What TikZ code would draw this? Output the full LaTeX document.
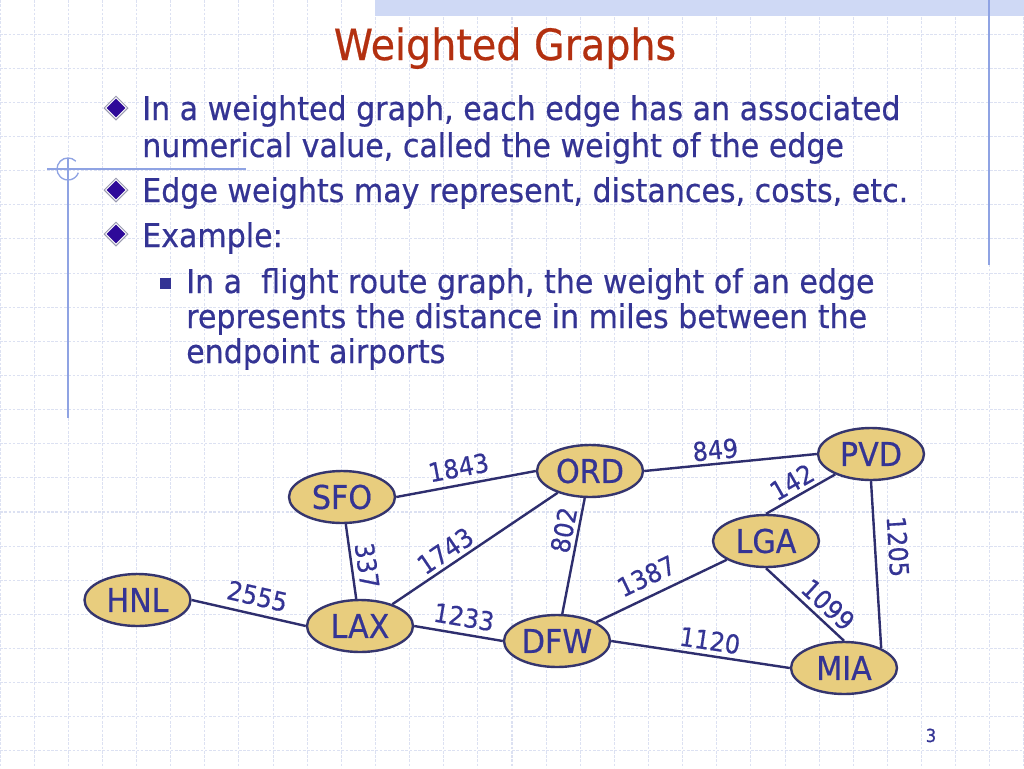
\documentclass[tikz,border=0pt]{standalone}
\usepackage{fontspec}
\setmainfont[FakeStretch=0.92,FakeBold=0.5]{DejaVu Sans}
\usetikzlibrary{shapes.geometric}
\definecolor{txt}{HTML}{343494}
\definecolor{ttl}{HTML}{B33010}
\definecolor{edgec}{HTML}{2E2E6E}
\definecolor{nodef}{HTML}{E8CD7E}
\definecolor{nodeb}{HTML}{35356E}
\definecolor{indigo}{HTML}{2E0A99}
\definecolor{dgray}{HTML}{9A9AB0}
\definecolor{deco}{HTML}{8FA3E3}
\definecolor{gridc}{HTML}{DCE1F2}
\definecolor{band}{HTML}{CFD9F5}
\tikzset{
  gridline/.style={gridc, line width=0.8pt, dash pattern=on 2pt off 1.2pt},
  decoline/.style={deco, line width=1pt},
  apt/.style={ellipse, draw=nodeb, fill=nodef, line width=1.8pt,
    minimum width=79.5pt, minimum height=39pt, inner sep=0pt,
    font=\fontsize{24.6}{28}\selectfont, text=txt},
  edge/.style={edgec, line width=1.8pt},
  lbl/.style={sloped, above, inner sep=#1, font=\fontsize{19.5}{22}\selectfont, text=txt},
  body/.style={anchor=base west, inner sep=0pt, text=txt, font=\fontsize{24.5}{28}\selectfont},
}
\begin{document}
\begin{tikzpicture}[x=0.75pt,y=-0.75pt]
\useasboundingbox (0,0) rectangle (1024,768);
\fill[white] (0,0) rectangle (1024,768);
% grid
\foreach \i in {0,...,30} \draw[gridline] (\i*34.133,0) -- (\i*34.133,768);
\foreach \j in {1,...,22} \draw[gridline] (0,\j*34.133) -- (1024,\j*34.133);
% top band and decorations
\fill[band] (375,0) rectangle (1024,16);
\draw[decoline] (989,0) -- (989,265);
\draw[decoline] (47,169) -- (246,169);
\draw[decoline] (68,158) -- (68,418);
\draw[decoline] (75.8,161.2) arc[start angle=45, end angle=340, radius=8.25pt];
% title
\node[anchor=base, inner sep=0pt, text=ttl, font=\fontsize{32.3}{36}\selectfont] (title) at (505,60) {Weighted Graphs};
% bullets
\foreach \y in {108,190,234} {
  \fill[dgray] (116,\y) +(0,-12.5) -- +(12.5,0) -- +(0,12.5) -- +(-12.5,0) -- cycle;
  \fill[white] (116,\y) +(0,-10.8) -- +(10.8,0) -- +(0,10.8) -- +(-10.8,0) -- cycle;
  \fill[indigo] (116,\y) +(0,-9.3) -- +(9.3,0) -- +(0,9.3) -- +(-9.3,0) -- cycle;
}
\fill[txt] (165,283) +(-5.5,-5.5) rectangle +(5.5,5.5);
\node[body] (t1) at (142,120) {In a weighted graph, each edge has an associated};
\node[body] (t2) at (142,157) {numerical value, called the weight of the edge};
\node[body] (t3) at (142,202) {Edge weights may represent, distances, costs, etc.};
\node[body] (t4) at (142,247) {Example:};
\node[body] (t5) at (186,293) {In a~ flight route graph, the weight of an edge};
\node[body] (t6) at (186,328) {represents the distance in miles between the};
\node[body] (t7) at (186,363) {endpoint airports};
% page number
\node[anchor=base, inner sep=0pt, text=txt, font=\fontsize{13.5}{16}\selectfont] (pg) at (931,742) {3};
% graph nodes
\node[apt] (HNL) at (137.5,600) {HNL};
\node[apt] (SFO) at (342,497) {SFO};
\node[apt] (LAX) at (360,626) {LAX};
\node[apt] (ORD) at (590,471) {ORD};
\node[apt] (PVD) at (871,454) {PVD};
\node[apt] (LGA) at (766,541) {LGA};
\node[apt] (DFW) at (557,641) {DFW};
\node[apt] (MIA) at (844,668) {MIA};
% edges
\draw[edge] (HNL.east) -- node[lbl=5.5pt, pos=0.54] {2555} (LAX.west);
\draw[edge] (SFO.east) -- node[lbl=4.9pt, pos=0.47] {1843} (ORD.west);
\draw[edge] (SFO) -- node[lbl=3.3pt, pos=0.585] {337} (LAX);
\draw[edge] (LAX) -- node[lbl=2.8pt, pos=0.37] {1743} (ORD);
\draw[edge] (LAX.east) -- node[lbl=4.6pt, pos=0.53] {1233} (DFW.west);
\draw[edge] (ORD.east) -- node[lbl=2.3pt, pos=0.42] {849} (PVD.west);
\draw[edge] (ORD) -- node[lbl=2.6pt, pos=0.30] {802} (DFW);
\draw[edge] (PVD) -- node[lbl=3pt, pos=0.52] {142} (LGA.north);
\draw[edge] (DFW) -- node[lbl=6.7pt, pos=0.45] {1387} (LGA);
\draw[edge] (LGA.south) -- node[lbl=3.5pt, pos=0.66] {1099} (MIA.north);
\draw[edge] (PVD.south) -- node[lbl=8.9pt, pos=0.40] {1205} (MIA.28);
\draw[edge] (DFW.east) -- node[lbl=3.2pt, pos=0.54] {1120} (MIA.west);
\end{tikzpicture}
\end{document}
